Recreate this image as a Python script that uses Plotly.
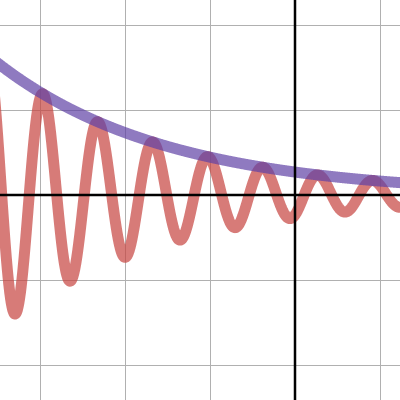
import numpy as np
import plotly.graph_objects as go

# curve parameters (grid unit = 1)
amp0 = 0.27        # envelope height at x=0
decay = 0.5        # envelope decay rate
period = 0.647     # oscillation period
peak_x = 0.27      # x of one crest

x = np.linspace(-3.6, 1.4, 2000)
envelope = amp0 * np.exp(-decay * x)
wave = envelope * np.cos(2 * np.pi * (x - peak_x) / period)

fig = go.Figure()
fig.add_trace(go.Scatter(x=x, y=wave, mode='lines', opacity=0.7,
                         line=dict(color='#c74440', width=11, simplify=False), hoverinfo='skip'))
fig.add_trace(go.Scatter(x=x, y=envelope, mode='lines', opacity=0.7,
                         line=dict(color='#6042a6', width=11, simplify=False), hoverinfo='skip'))

fig.add_hline(y=0, line_color='black', line_width=2.5)
fig.add_vline(x=0, line_color='black', line_width=2.5)

fig.update_layout(width=400, height=400, margin=dict(l=0, r=0, t=0, b=0),
                  paper_bgcolor='white', plot_bgcolor='white', showlegend=False)
fig.update_xaxes(range=[-295 / 85, 105 / 85], dtick=1, showgrid=True, gridcolor='#b0b0b0',
                 gridwidth=1.2, zeroline=False, showticklabels=False)
fig.update_yaxes(range=[-205 / 85, 195 / 85], dtick=1, showgrid=True, gridcolor='#b0b0b0',
                 gridwidth=1.2, zeroline=False, showticklabels=False)
fig.write_html("out.html", config={'displayModeBar': False},
               post_script="document.body.style.margin='0';")
